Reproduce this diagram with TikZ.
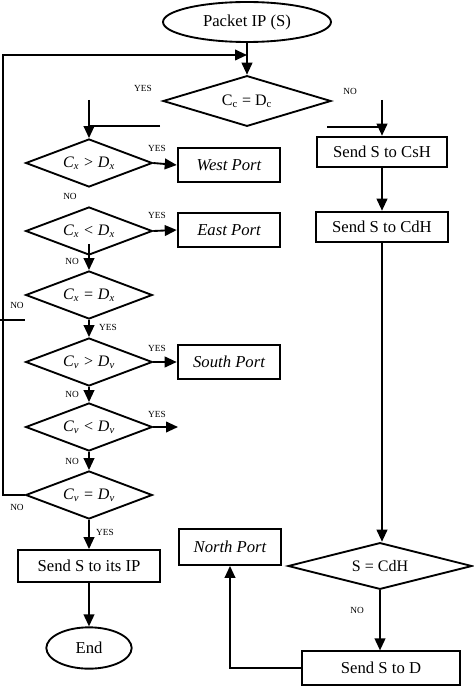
\documentclass[tikz,border=0pt]{standalone}
\usepackage{fontspec}
\setmainfont{Liberation Serif}
\usetikzlibrary{shapes.geometric,arrows.meta}

\tikzset{
  arr/.style={-{Triangle[length=9pt,width=8pt]}},
  decide/.style={draw,diamond,aspect=2.6,inner sep=0pt,minimum width=95pt,minimum height=36pt,font=\fontsize{12}{14}\selectfont},
  proc/.style={draw,rectangle,inner sep=0pt,minimum width=77pt,minimum height=26pt,font=\fontsize{12.5}{14}\selectfont},
  port/.style={proc,font=\fontsize{12.5}{14}\selectfont\itshape},
  term/.style={draw,ellipse,inner sep=0pt,font=\fontsize{12.5}{14}\selectfont},
  lbl/.style={inner sep=0pt,font=\fontsize{7}{8}\selectfont}
}

\begin{document}
\begin{tikzpicture}[x=0.75pt,y=-0.75pt,line width=1.4pt]
\useasboundingbox (0,0) rectangle (474,688);

\node[term,minimum width=126pt,minimum height=30pt] (start) at (247,22) {Packet IP (S)};
\node[decide,aspect=3.3,minimum width=126pt,minimum height=38pt] (cc) at (247,101) {C\textsubscript{c} = D\textsubscript{c}};

\node[decide] (dx1) at (89,163) {\itshape C\textsubscript{x} > D\textsubscript{x}};
\node[decide] (dx2) at (89,231) {\itshape C\textsubscript{x} < D\textsubscript{x}};
\node[decide] (dx3) at (89,295) {\itshape C\textsubscript{x} = D\textsubscript{x}};
\node[decide] (dy1) at (89,362) {\itshape C\textsubscript{v} > D\textsubscript{v}};
\node[decide] (dy2) at (89,427) {\itshape C\textsubscript{v} < D\textsubscript{v}};
\node[decide] (dy3) at (89,495) {\itshape C\textsubscript{v} = D\textsubscript{v}};

\node[port] (west) at (229,165) {West Port};
\node[port] (east) at (229,230) {East Port};
\node[port] (south) at (229,362) {South Port};
\node[proc,minimum width=106pt,minimum height=24pt] (sendip) at (89,566) {Send S to its IP};
\node[term,minimum width=64pt,minimum height=31pt] (fin) at (89,648) {End};

\node[proc,minimum width=98pt,minimum height=23pt] (csh) at (382,152) {Send S to CsH};
\node[proc,minimum width=99pt,minimum height=23pt] (cdh) at (382,227) {Send S to CdH};
\node[decide,aspect=4,minimum width=138pt,minimum height=35pt] (scdh) at (380,566) {S = CdH};
\node[proc,minimum width=118pt,minimum height=25pt] (sendd) at (381,668) {Send S to D};
\node[port,minimum height=27pt] (north) at (230,547) {North Port};

\coordinate (tee) at (247,55);
\coordinate (ytop) at (89,100);
\coordinate (yend) at (160,126);
\coordinate (ntop) at (382,100);
\coordinate (nend) at (327,127);
\coordinate (loop) at (3,495);
\coordinate (stubA) at (0,320);
\coordinate (stubB) at (25,320);
\coordinate (yout) at (178,427);

% top
\draw[arr] (start) -- (cc);
\draw[arr] (dy3.west) -- (loop) |- (tee);
\draw[arr] (ytop) -- (dx1.north);
\draw (yend) -- (yend -| dx1.north);
\draw[arr] (ntop) -- (csh.north);
\draw (nend) -- (nend -| csh.north);

% left column
\draw[arr] (dx1.east) -- (west.west);
\draw[arr] (dx2.east) -- (east.west);
\draw[arr] ([yshift=9pt]dx2.south) -- (dx3.north);
\draw (stubA) -- (stubB);
\draw[arr] (dx3.south) -- (dy1.north);
\draw[arr] (dy1.east) -- (south.west);
\draw[arr] (dy1.south) -- (dy2.north);
\draw[arr] (dy2.east) -- (yout);
\draw[arr] (dy2.south) -- (dy3.north);
\draw[arr] (dy3.south) -- (sendip.north);
\draw[arr] (sendip.south) -- (fin.north);

% right column
\draw[arr] (csh.south) -- (cdh.north);
\draw[arr] (cdh.south) -- (cdh.south |- scdh.north);
\draw[arr] (scdh.south) -- (scdh.south |- sendd.north);
\draw[arr] (sendd.west) -| (north.south);

% labels
\node[lbl] (l1) at (143,88) {YES};
\node[lbl] (l2) at (350,91) {NO};
\node[lbl] (l3) at (157,148) {YES};
\node[lbl] (l4) at (70,196) {NO};
\node[lbl] (l5) at (157,215) {YES};
\node[lbl] (l6) at (72,261) {NO};
\node[lbl] (l7) at (17,305) {NO};
\node[lbl] (l8) at (108,327) {YES};
\node[lbl] (l9) at (157,348) {YES};
\node[lbl] (l10) at (72,394) {NO};
\node[lbl] (l11) at (157,414) {YES};
\node[lbl] (l12) at (72,461) {NO};
\node[lbl] (l13) at (17,507) {NO};
\node[lbl] (l14) at (105,532) {YES};
\node[lbl] (l15) at (357,610) {NO};

\end{tikzpicture}
\end{document}
